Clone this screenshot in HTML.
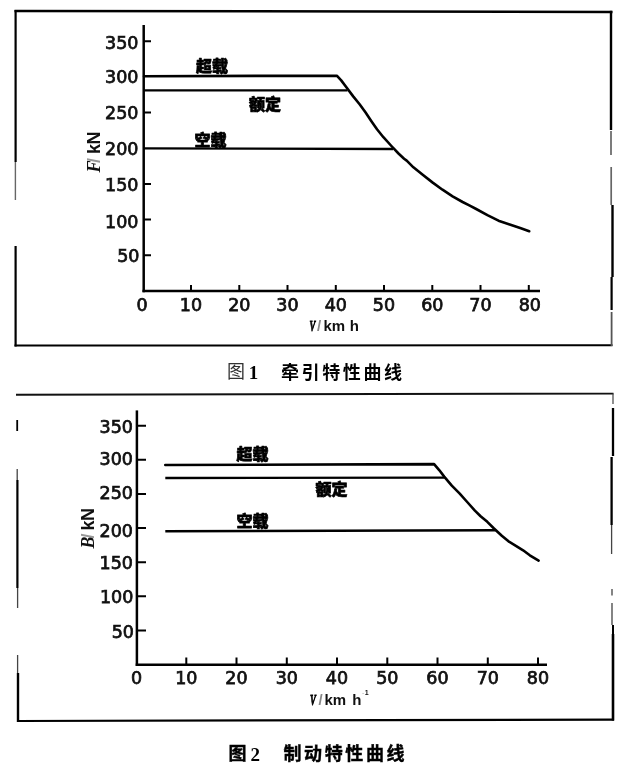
<!DOCTYPE html>
<html><head><meta charset="utf-8"><title>牵引与制动特性曲线</title>
<style>
html,body{margin:0;padding:0;background:#fff;width:626px;height:776px;overflow:hidden}
svg{position:absolute;left:0;top:0;display:block;will-change:transform}
.n{font-family:"DejaVu Sans","Liberation Sans",sans-serif;font-size:17.5px;font-weight:normal;fill:#111;stroke:#111;stroke-width:0.75px}
.c{font-family:"Liberation Sans","Noto Sans CJK SC",sans-serif;font-weight:900;font-size:16px;fill:#000;stroke:#000;stroke-width:0.7px;stroke-linejoin:round}
.cap{font-family:"Liberation Serif","Noto Sans CJK SC",sans-serif;font-weight:700;font-size:18px;fill:#000}
.capn{font-family:"Liberation Serif",serif;font-weight:bold;font-size:19px;fill:#000}
.ax{font-family:"Liberation Sans",sans-serif;font-weight:bold;font-size:15px;fill:#111}
.it{font-family:"Liberation Serif",serif;font-style:italic;font-weight:bold}
</style></head>
<body>
<svg width="626" height="776" viewBox="0 0 626 776">
<g fill="none" stroke="#000" stroke-linecap="butt">
<!-- Frame 1 -->
<path d="M14.5 10.9 L612.5 11.9" stroke-width="2.5"/>
<path d="M15.6 10 V162" stroke-width="2.2"/>
<path d="M15.4 162 V200" stroke-width="1.4" stroke="#666"/>
<path d="M15.6 246 V346.5" stroke-width="2.2"/>
<path d="M14.5 345.6 L612.5 345.2" stroke-width="2"/>
<path d="M611 10.8 V130" stroke-width="2.4"/>
<path d="M611 131 V155 M611.2 167 V205" stroke-width="1.7" stroke="#666"/>
<path d="M612.5 205 V277" stroke-width="2.4"/>
<path d="M611.6 277 V310" stroke-width="2.2"/>
<path d="M611.6 312 V346" stroke-width="1.8" stroke="#555"/>

<!-- Chart 1 axes -->
<path d="M143.7 25 V292.3" stroke-width="2.5"/>
<path d="M142.5 291.1 H540" stroke-width="2.5"/>
<path d="M144 41.3 H151 M144 112.6 H151 M144 184 H151 M144 219.6 H151 M144 255.3 H151" stroke-width="2"/>
<path d="M191 291 V285 M239.3 291 V285 M287.5 291 V285 M335.8 291 V285 M384 291 V285 M432.3 291 V285 M480.5 291 V285 M528.8 291 V285" stroke-width="2"/>
<!-- Chart 1 curves -->
<path d="M144 76.2 L336.8 75.7 L341.2 80.4 L346 86.8 L353.2 96.4 L359.6 104.3 L365.6 112.6 L371.4 121.2 L377 129.2 L383.4 137.2 L391.4 146 L398.5 153.5 L404.1 158.7 L406.7 160.6 L413.4 167.3 L422.4 174.6 L432.4 182.4 L442.5 189.7 L452.6 196.4 L462.6 202 L469.3 205.4 L476.2 209 L487.4 215.1 L498.5 220.7 L509.7 224.6 L520.9 228.3 L529.2 231.2" stroke-width="2.6" stroke-linejoin="round" stroke-linecap="round"/>
<path d="M144 90.4 H347.5" stroke-width="2.4"/>
<path d="M144 148.4 L393 149" stroke-width="2.4"/>

<!-- Frame 2 -->
<path d="M16 394.8 L613.5 393.6" stroke-width="1.9" stroke="#111"/>
<path d="M17.2 420 V431" stroke-width="1.8"/>
<path d="M17.2 469 V480 M17.6 588 V608" stroke-width="1.3" stroke="#444"/>
<path d="M17.4 480 V588" stroke-width="2.2"/>
<path d="M17.6 655 V673" stroke-width="1.3" stroke="#444"/>
<path d="M18 673 V722" stroke-width="2.4"/>
<path d="M17 721 L614 719.6" stroke-width="2.2"/>
<path d="M613 393.4 V404" stroke-width="1.2" stroke="#444"/>
<path d="M613 408 V456" stroke-width="2.3"/>
<path d="M611.6 457 V525" stroke-width="2.3"/>
<path d="M611.6 525 V554 M612 589 V595.5 M612 603 V625" stroke-width="1.3" stroke="#444"/>
<path d="M613 625 V634" stroke-width="2"/>
<path d="M613 634 V720.6" stroke-width="2.6"/>

<!-- Chart 2 axes -->
<path d="M136.9 410.4 V665.9" stroke-width="2.5"/>
<path d="M135.7 664.7 H547" stroke-width="2.5"/>
<path d="M137.5 425.7 H146 M137.5 459.8 H146 M137.5 493.9 H146 M137.5 528.1 H146 M137.5 562.2 H146 M137.5 596.3 H146 M137.5 630.5 H146" stroke-width="2"/>
<path d="M186.3 664.6 V657.5 M236.5 664.6 V657.5 M286.8 664.6 V657.5 M337 664.6 V657.5 M387.3 664.6 V657.5 M437.5 664.6 V657.5 M487.8 664.6 V657.5 M538 664.6 V657.5" stroke-width="2"/>
<!-- Chart 2 curves -->
<path d="M165.3 465 L434.1 464.1 L439.4 470.3 L444.2 476.6 L451.8 485.7 L459.5 493.4 L467.2 502 L474.9 510.6 L480.6 516.2 L487.3 521.8 L494 528.5 L501.8 535.8 L508.5 541.3 L517.5 546.9 L523.1 550.3 L529.8 555.3 L538.6 560.6" stroke-width="2.6" stroke-linejoin="round" stroke-linecap="round"/>
<path d="M165.3 478 L444.6 477.6" stroke-width="2.4"/>
<path d="M165.3 531.2 L495.5 530.2" stroke-width="2.4"/>
</g>

<!-- Chart 1 labels -->
<g class="n" text-anchor="end">
<text x="138.5" y="48.5">350</text>
<text x="138.5" y="82.6">300</text>
<text x="138.5" y="119">250</text>
<text x="138.5" y="154.5">200</text>
<text x="138.5" y="190.5">150</text>
<text x="138.5" y="228">100</text>
<text x="139.5" y="262">50</text>
</g>
<g class="n" text-anchor="middle">
<text x="142" y="310.8">0</text>
<text x="191" y="310.8">10</text>
<text x="239.3" y="310.8">20</text>
<text x="287.5" y="310.8">30</text>
<text x="335.8" y="310.8">40</text>
<text x="384" y="310.8">50</text>
<text x="432.3" y="310.8">60</text>
<text x="480.5" y="310.8">70</text>
<text x="529.8" y="310.8">80</text>
</g>
<text class="c" x="196" y="72">超载</text>
<text class="c" x="249" y="109.5">额定</text>
<text class="c" x="194.5" y="146">空载</text>
<text class="ax" transform="translate(99.5,172.4) rotate(-90)" style="font-size:18px"><tspan class="it">F</tspan><tspan x="9.5" style="fill:#999">/</tspan><tspan x="18.5">k</tspan><tspan x="28">N</tspan></text>
<text class="ax it" transform="translate(309.5,331) scale(0.58,1)" style="font-size:15px;stroke:#000;stroke-width:0.9px">V</text>
<text class="ax" y="331"><tspan x="317" style="fill:#888">/</tspan><tspan x="323.5">km</tspan><tspan x="349.8">h</tspan></text>
<text class="cap" x="227" y="378" style="fill:#333;font-weight:400">图</text><text class="capn" x="248.8" y="379">1</text>
<text class="cap" x="281" y="378.5" letter-spacing="2.6">牵引特性曲线</text>

<!-- Chart 2 labels -->
<g class="n" text-anchor="end">
<text x="133" y="433.4">350</text>
<text x="133" y="465.3">300</text>
<text x="133" y="499">250</text>
<text x="133" y="536.6">200</text>
<text x="133" y="568.8">150</text>
<text x="133.3" y="603.3">100</text>
<text x="134" y="637.5">50</text>
</g>
<g class="n" text-anchor="middle">
<text x="136.5" y="684">0</text>
<text x="186.3" y="684">10</text>
<text x="236.5" y="684">20</text>
<text x="286.8" y="684">30</text>
<text x="337" y="684">40</text>
<text x="387.3" y="684">50</text>
<text x="437.5" y="684">60</text>
<text x="487.8" y="684">70</text>
<text x="538" y="684">80</text>
</g>
<text class="c" x="236.5" y="460">超载</text>
<text class="c" x="315.5" y="495">额定</text>
<text class="c" x="236.5" y="527">空载</text>
<text class="ax" transform="translate(93.5,548.4) rotate(-90)" style="font-size:18px"><tspan class="it">B</tspan><tspan x="10" style="fill:#999">/</tspan><tspan x="18">k</tspan><tspan x="27.5">N</tspan></text>
<text class="ax it" transform="translate(310,704.5) scale(0.58,1)" style="font-size:15px;stroke:#000;stroke-width:0.9px">V</text>
<text class="ax" y="704.5"><tspan x="318.6" style="fill:#888">/</tspan><tspan x="324.5">km</tspan><tspan x="352.3">h</tspan><tspan x="362" dy="-9.5" style="font-size:7px;fill:#ccc">-</tspan><tspan x="364.8" style="font-size:7px">1</tspan></text>
<text class="cap" x="228.5" y="759.5" style="stroke:#000;stroke-width:0.4px">图</text><text class="capn" x="250.5" y="761">2</text>
<text class="cap" x="283.5" y="759.5" letter-spacing="2.6" style="stroke:#000;stroke-width:0.4px">制动特性曲线</text>
</svg>
</body></html>
